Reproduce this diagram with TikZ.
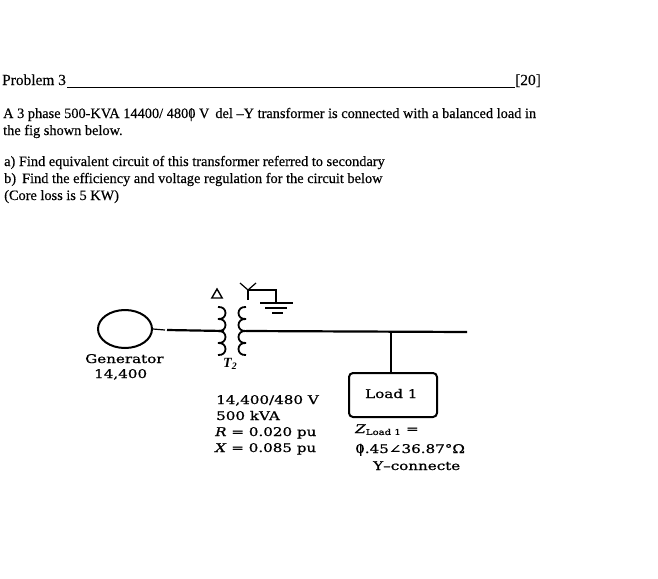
\documentclass[tikz,border=0pt]{standalone}
\usepackage{amssymb}
\usepackage{fontspec}
\setmainfont{Liberation Serif}
\newfontfamily\bodyfont{Liberation Serif}[FakeBold=0.35]
\newfontfamily\figfont{DejaVu Serif}[FakeStretch=1.26,FakeBold=0.9]
\usetikzlibrary{shapes.geometric}
\tikzset{
    bodytext/.style={anchor=base west,inner sep=0pt,font=\bodyfont\fontsize{14.35}{16}\selectfont},
    headtext/.style={anchor=base west,inner sep=0pt,font=\bodyfont\fontsize{15.4}{16}\selectfont},
    figtext/.style={anchor=base west,inner sep=0pt,font=\figfont\fontsize{12}{14}\selectfont},
    wire/.style={line width=2.2pt,black},
    thinwire/.style={line width=1.2pt,black},
}
\begin{document}
\begin{tikzpicture}[x=1pt,y=-1pt]
    \useasboundingbox (0,0) rectangle (658,578);
    % problem text
    \node[headtext] (title) at (2,85) {Problem 3};
    \node[headtext] (marks) at (515,85) {[20]};
    \draw[thinwire] (title.base east) ++(1,2.5) coordinate (rulea) -- (marks.base west |- rulea);
    \node[bodytext] (linea) at (3,118) {A 3 phase 500-KVA 14400/ 480\rlap{\hspace{1.5pt}|}0 V\, del –Y transformer is connected with a balanced load in};
    \node[bodytext] (lineb) at (3,135) {the fig shown below.};
    \node[bodytext] (linec) at (4,166) {a) Find equivalent circuit of this transformer referred to secondary};
    \node[bodytext] (lined) at (4,183) {b)\, Find the efficiency and voltage regulation for the circuit below};
    \node[bodytext] (linee) at (4,200) {(Core loss is 5 KW)};
    % generator and bus
    \node[ellipse,draw,line width=2pt,minimum width=54pt,minimum height=38pt,inner sep=0pt] (gen) at (125,329) {};
    \coordinate (stub) at (165,330);
    \coordinate (pri) at (224,331);
    \coordinate (sec) at (246,331);
    \coordinate (busend) at (467,332);
    \coordinate (tap) at (391,332);
    \draw[thinwire] (gen.east) -- (stub);
    \draw[wire] (stub) ++(2,0) -- (pri);
    \draw[wire] (sec) -- (busend);
    % transformer coils
    \foreach \y in {307,319,331,343} {
        \draw[line width=1.8pt] (218,\y) .. controls (228,\y-1) and (228,\y+13) .. (218,\y+12);
        \draw[line width=1.8pt] (246,\y) .. controls (236,\y-1) and (236,\y+13) .. (246,\y+12);
    }
    \node[regular polygon,regular polygon sides=3,draw,line width=1.4pt,inner sep=0pt,minimum size=12pt] (delta) at (217,295) {};
    % wye and ground
    \coordinate (wye) at (248,290);
    \draw[thinwire] (240,283) -- (wye) -- (256,283);
    \draw[thinwire] (wye) -- (248,300);
    \coordinate (gnd) at (276,303);
    \draw[thinwire] (wye) -- (276,290) -- (gnd);
    \draw[line width=2pt] (260,303) -- (293,303);
    \draw[line width=2pt] (265,308) -- (287,308);
    \draw[line width=1.2pt] (272,313) -- (283,313);
    % load
    \node[draw,line width=2pt,rounded corners=4pt,minimum width=88pt,minimum height=44pt,inner sep=0pt] (load) at (393,395) {};
    \node[figtext] (loadname) at (365,398) {Load 1};
    \draw[wire] (tap) -- (tap |- load.north);
    % labels
    \node[figtext] (genname) at (85,363) {Generator};
    \node[figtext] (genvolt) at (94,378) {14,400};
    \node[figtext,font=\normalfont\itshape\bfseries\fontsize{14}{14}\selectfont] (tname) at (223,367) {T\textsubscript{2}};
    \node[figtext] (ratinga) at (216,404) {14,400/480 V};
    \node[figtext] (ratingb) at (216,420) {500 kVA};
    \node[figtext] (ratingc) at (215,436) {\textit{R} = 0.020 pu};
    \node[figtext] (ratingd) at (215,452) {\textit{X} = 0.085 pu};
    \node[figtext] (zlabel) at (355,433) {\textit{Z}\smash{\textsubscript{Load 1}} =};
    \node[figtext] (zvalue) at (355,453) {\rlap{\smash{\hspace{3pt}|}}0.45∠36.87°Ω};
    \node[figtext] (zconn) at (373,470) {Y–connecte};
\end{tikzpicture}
\end{document}
